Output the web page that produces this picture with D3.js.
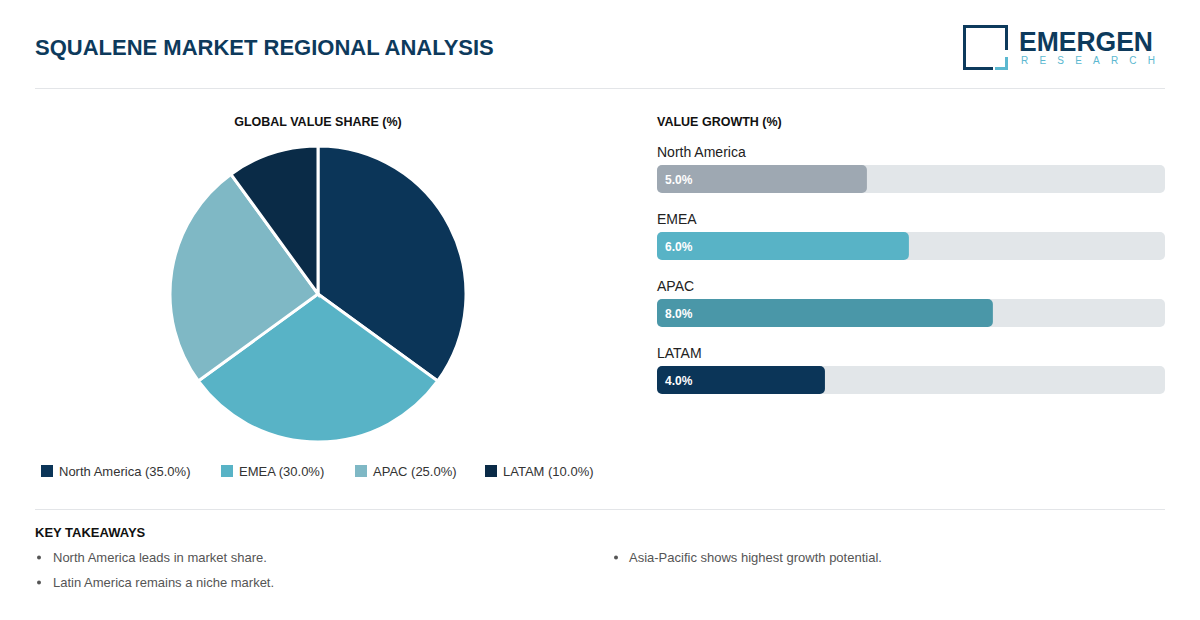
<!DOCTYPE html>
<html>
<head>
<meta charset="utf-8">
<script src="https://cdn.jsdelivr.net/npm/d3@7/dist/d3.min.js"></script>
<style>
  html, body { margin: 0; padding: 0; background: #ffffff; }
  svg { display: block; font-family: "Liberation Sans", Arial, Helvetica, sans-serif; }
</style>
</head>
<body>
<svg id="chart" width="1200" height="620"></svg>
<script>
// ---- data ----
const regions = ["North America", "EMEA", "APAC", "LATAM"];
const shareValues = [35.0, 30.0, 25.0, 10.0];
const growthValues = [5.0, 6.0, 8.0, 4.0];
const pieColors = ["#0b3558", "#58b3c6", "#7fb8c5", "#0a2b47"];
const barColors = ["#9ea8b2", "#58b3c6", "#4a97a8", "#0b3558"];
const takeawaysLeft = ["North America leads in market share.", "Latin America remains a niche market."];
const takeawaysRight = ["Asia-Pacific shows highest growth potential."];

const svg = d3.select("#chart");

// ---- header ----
svg.append("text").attr("x", 35).attr("y", 55)
  .attr("font-size", 22).attr("font-weight", "bold").attr("fill", "#0d3a5c")
  .text("SQUALENE MARKET REGIONAL ANALYSIS");

// logo
const logo = svg.append("g");
const dark = "#0d3a5c", cyan = "#5bb8d0";
logo.append("path").attr("d", "M993,68.5 L964.5,68.5 L964.5,26.5 L1006.5,26.5 L1006.5,50")
  .attr("fill", "none").attr("stroke", dark).attr("stroke-width", 3);
logo.append("path").attr("d", "M995,68.5 L1006.5,68.5 L1006.5,57")
  .attr("fill", "none").attr("stroke", cyan).attr("stroke-width", 3);
logo.append("text").attr("x", 1019).attr("y", 51)
  .attr("font-size", 27).attr("font-weight", "bold").attr("fill", dark)
  .attr("textLength", 134).attr("lengthAdjust", "spacingAndGlyphs")
  .text("EMERGEN");
logo.append("text").attr("x", 1021).attr("y", 64)
  .attr("font-size", 10).attr("fill", cyan)
  .attr("textLength", 134).attr("lengthAdjust", "spacing")
  .text("RESEARCH");

svg.append("line").attr("x1", 35).attr("x2", 1165).attr("y1", 88.5).attr("y2", 88.5)
  .attr("stroke", "#e3e5e8").attr("stroke-width", 1);

// ---- pie ----
svg.append("text").attr("x", 318).attr("y", 126).attr("text-anchor", "middle")
  .attr("font-size", 12.5).attr("font-weight", "bold").attr("fill", "#111")
  .text("GLOBAL VALUE SHARE (%)");

const pie = d3.pie().sort(null).value(d => d)(shareValues);
const arc = d3.arc().innerRadius(0).outerRadius(148);
svg.append("g").attr("transform", "translate(318,294)")
  .selectAll("path").data(pie).join("path")
  .attr("d", arc)
  .attr("fill", (d, i) => pieColors[i])
  .attr("stroke", "#ffffff").attr("stroke-width", 3);

// legend
const legendX = [41, 221, 355, 485];
const lg = svg.append("g");
regions.forEach((r, i) => {
  lg.append("rect").attr("x", legendX[i]).attr("y", 465).attr("width", 12).attr("height", 12)
    .attr("fill", pieColors[i]);
  lg.append("text").attr("x", legendX[i] + 18).attr("y", 476)
    .attr("font-size", 13).attr("fill", "#333")
    .text(`${r} (${shareValues[i].toFixed(1)}%)`);
});

// ---- bars ----
svg.append("text").attr("x", 657).attr("y", 126)
  .attr("font-size", 12.5).attr("font-weight", "bold").attr("fill", "#111")
  .text("VALUE GROWTH (%)");

const x = d3.scaleLinear().domain([0, 12.1]).range([657, 1165]);
const yBand = d3.scaleBand().domain(regions).range([165, 433]).paddingInner(0).paddingOuter(0);
const barH = 28;
const bg = svg.append("g");
regions.forEach((r, i) => {
  const y0 = yBand(r);
  bg.append("text").attr("x", 657).attr("y", y0 - 8)
    .attr("font-size", 14).attr("fill", "#222").text(r);
  bg.append("rect").attr("x", x(0)).attr("y", y0).attr("width", x.range()[1] - x(0)).attr("height", barH)
    .attr("rx", 5).attr("fill", "#e2e6e9");
  bg.append("rect").attr("x", x(0)).attr("y", y0).attr("width", x(growthValues[i]) - x(0)).attr("height", barH)
    .attr("rx", 5).attr("fill", barColors[i]);
  bg.append("text").attr("x", x(0) + 8).attr("y", y0 + barH / 2 + 4.5)
    .attr("font-size", 12).attr("font-weight", "bold").attr("fill", "#ffffff")
    .text(growthValues[i].toFixed(1) + "%");
});

// ---- takeaways ----
svg.append("line").attr("x1", 35).attr("x2", 1165).attr("y1", 509.5).attr("y2", 509.5)
  .attr("stroke", "#e3e5e8").attr("stroke-width", 1);
svg.append("text").attr("x", 35).attr("y", 537)
  .attr("font-size", 13).attr("font-weight", "bold").attr("fill", "#111")
  .text("KEY TAKEAWAYS");

function bullets(items, xb, xt) {
  items.forEach((t, i) => {
    const yy = 562 + i * 25;
    svg.append("circle").attr("cx", xb).attr("cy", yy - 4.5).attr("r", 2).attr("fill", "#555");
    svg.append("text").attr("x", xt).attr("y", yy).attr("font-size", 13).attr("fill", "#555").text(t);
  });
}
bullets(takeawaysLeft, 39, 53);
bullets(takeawaysRight, 616, 629);
</script>
</body>
</html>
